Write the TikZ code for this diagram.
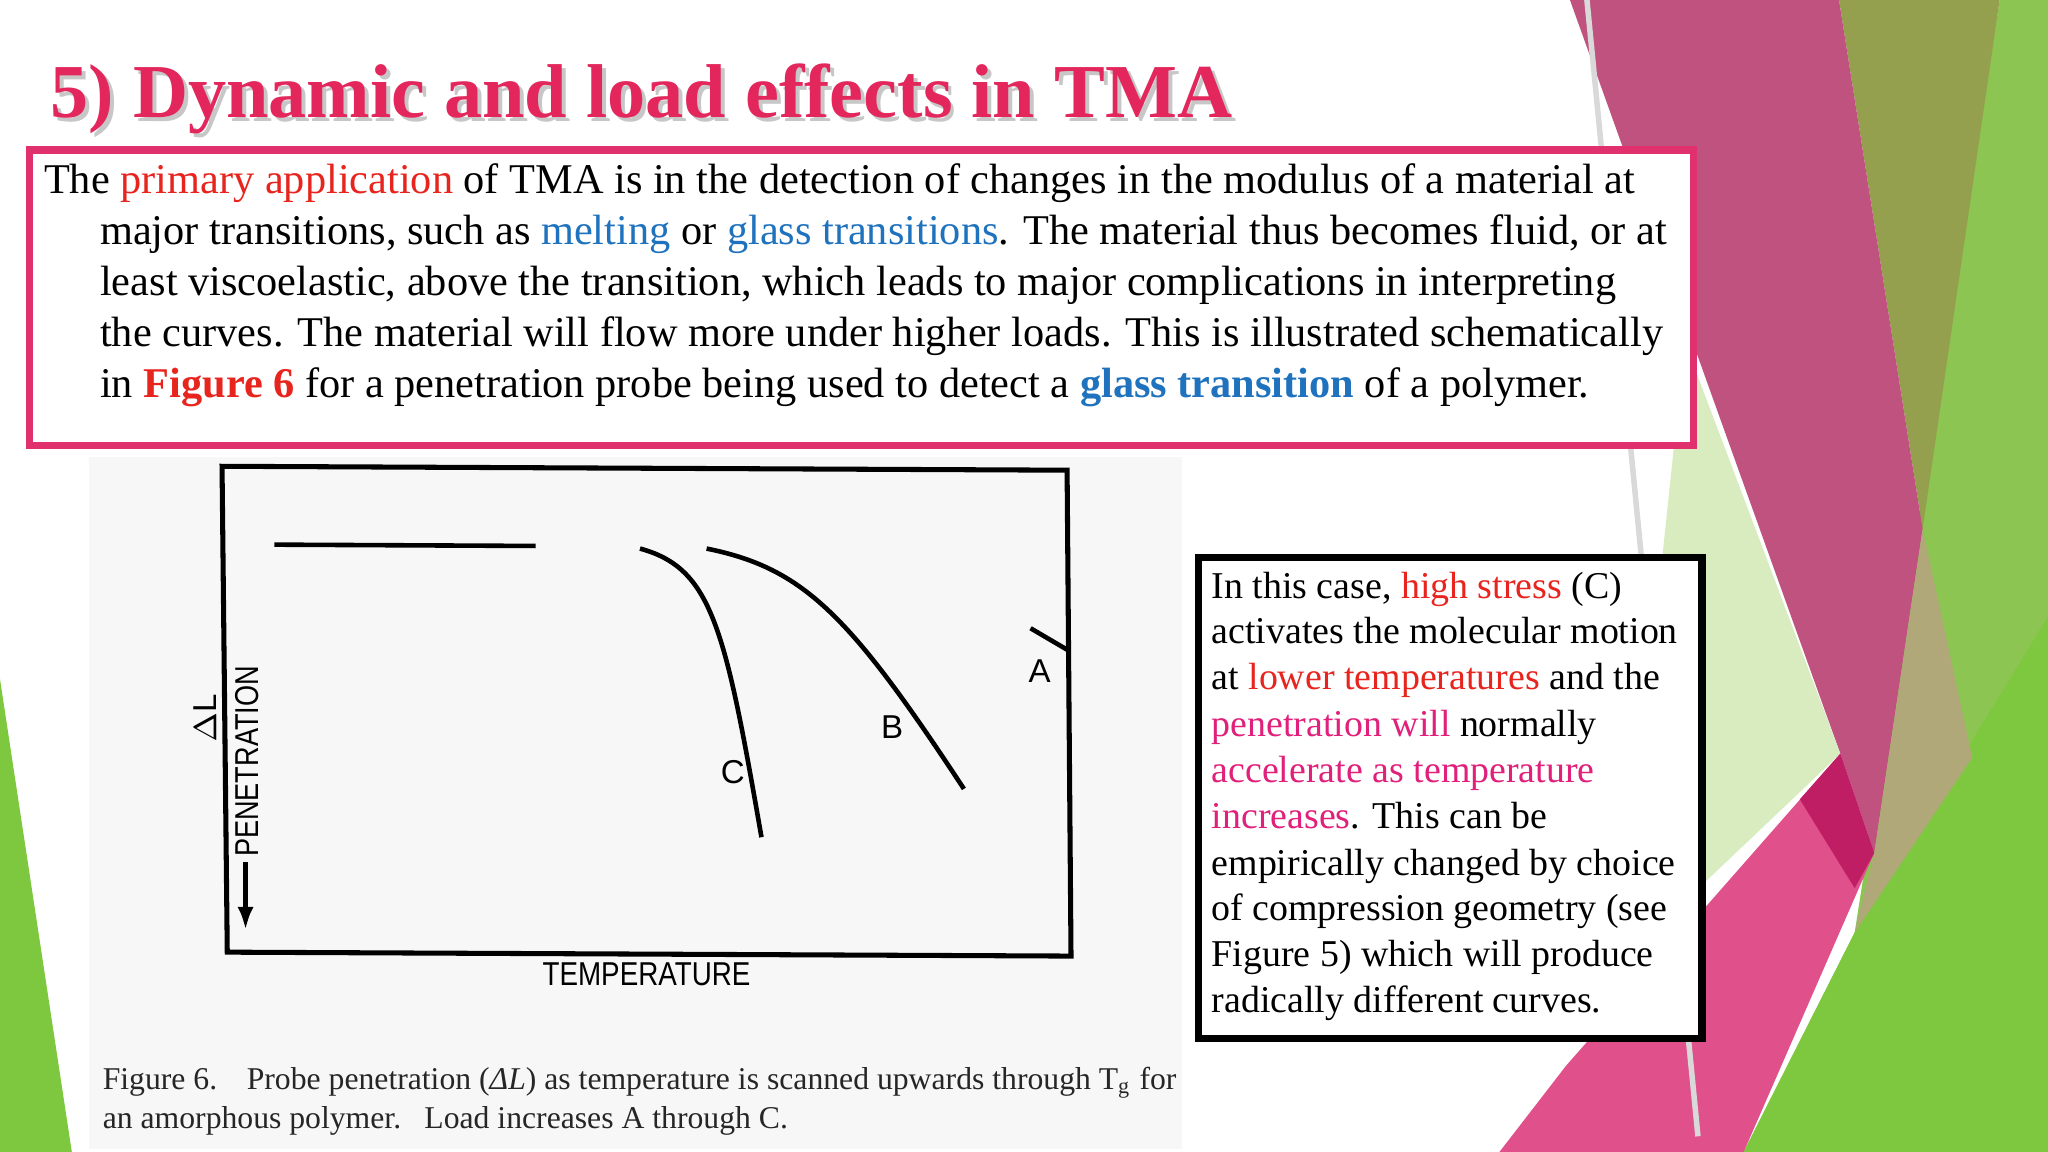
\documentclass[tikz,border=0pt]{standalone}
\usepackage{fontspec}
\setmainfont{Liberation Serif}
\setsansfont{Liberation Sans}
\usetikzlibrary{arrows.meta}
\definecolor{tred}{HTML}{E8241E}
\definecolor{tblue}{HTML}{1F72BD}
\definecolor{tpink}{HTML}{E0207A}
\definecolor{ttitle}{HTML}{E3265C}
\definecolor{tbox}{HTML}{E0306E}
\begin{document}
\begin{tikzpicture}[x=0.01cm,y=-0.01cm,
  body/.style={anchor=base west,inner sep=0,font=\fontsize{9.22}{10}\selectfont},
  side/.style={anchor=base west,inner sep=0,font=\fontsize{8.25}{10}\selectfont},
  lab/.style={inner sep=0,font=\sffamily\fontsize{7.2}{8}\selectfont},
  captext/.style={anchor=base west,inner sep=0,text=black!85,font=\fontsize{6.9}{9}\selectfont}]
\useasboundingbox (0,0) rectangle (1568,882);
\fill[white] (0,0) rectangle (1568,882);
% background decoration
\fill[color={rgb,255:red,141;green,197;blue,82}] (1531,0)--(1568,0)--(1568,882)--(1335,882)--(1420,714)--cycle;
\fill[color={rgb,255:red,126;green,200;blue,64}] (1335,882)--(1568,882)--(1568,472)--(1420,714)--cycle;
\fill[color={rgb,255:red,148;green,160;blue,78}] (1408,0)--(1531,0)--(1472,405)--cycle;
\fill[color={rgb,255:red,192;green,82;blue,128}] (1202,0)--(1408,0)--(1472,405)--(1435,653)--(1409,577)--cycle;
\fill[color={rgb,255:red,216;green,236;blue,192}] (1290,262)--(1409,577)--(1290,690)--(1265,500)--cycle;
\fill[color={rgb,255:red,224;green,80;blue,138}] (1148,882)--(1199,816)--(1409,577)--(1435,653)--(1335,882)--cycle;
\fill[color={rgb,255:red,192;green,30;blue,100}] (1378,612)--(1409,577)--(1435,653)--(1420,680)--cycle;
\fill[color={rgb,255:red,176;green,168;blue,120}] (1435,653)--(1472,405)--(1510,580)--(1420,714)--cycle;
\draw[black!15,line width=1.2] (1215,0)--(1300,870);
\fill[color={rgb,255:red,126;green,200;blue,64}] (0,520)--(55,882)--(0,882)--cycle;
% title
\node[anchor=base west,inner sep=0,text=black!22,font=\bfseries\fontsize{16.6}{18}\selectfont] at (41,93) {5) Dynamic and load effects in TMA};
\node (title) [anchor=base west,inner sep=0,text=ttitle,font=\bfseries\fontsize{16.6}{18}\selectfont] at (38,90) {5) Dynamic and load effects in TMA};
% top box
\node (topbox) [draw=tbox,line width=1.6pt,fill=white,minimum width=12.73cm,minimum height=2.26cm,anchor=north west,inner sep=0] at (20,112) {};
\node (l1) [body] at (33,148) {The \textcolor{tred}{primary application} of TMA is in the detection of changes in the modulus of a material at};
\node (l2) [body] at (76,187) {major transitions, such as \textcolor{tblue}{melting} or \textcolor{tblue}{glass transitions}. The material thus becomes fluid, or at};
\node (l3) [body] at (76,226) {least viscoelastic, above the transition, which leads to major complications in interpreting};
\node (l4) [body] at (76,265) {the curves. The material will flow more under higher loads. This is illustrated schematically};
\node (l5) [body] at (76,304) {in \textcolor{tred}{\textbf{Figure 6}} for a penetration probe being used to detect a \textcolor{tblue}{\textbf{glass transition}} of a polymer.};
% figure
\fill[black!3] (68,350) rectangle (905,880);
\draw[line width=1.1pt] (170,357)--(817,360)--(820,732)--(174,729)--cycle;
\draw[line width=1pt] (210,417)--(410,418);
\draw[line width=1pt] (490,420) .. controls (545,435) and (555,480) .. (583,641);
\draw[line width=1pt] (541,420) .. controls (615,435) and (650,470) .. (738,604);
\draw[line width=1pt] (789,481)--(818,498);
\node (A) [lab] at (796,514) {A};
\node (B) [lab] at (683,557) {B};
\node (C) [lab] at (561,591) {C};
\node (pen) [lab,rotate=90,xscale=0.82] at (189,583) {PENETRATION};
\coordinate (arrStart) at (188,660);
\coordinate (arrEnd) at (188,712);
\draw[line width=1pt,-{Latex[length=5pt,width=3.5pt]}] (arrStart) -- (arrEnd);
\node (dl) [lab,rotate=90] at (157,550) {$\Delta$L};
\node (temp) [lab,xscale=0.84] at (495,746) {TEMPERATURE};
\node (c1) [captext] at (78,834) {Figure 6.\hspace{0.6em} Probe penetration (\textit{ΔL}) as temperature is scanned upwards through T\textsubscript{g} for};
\node (c2) [captext] at (78,864) {an amorphous polymer.\hspace{0.4em} Load increases A through C.};
% side box
\node (sidebox) [draw=black,line width=1.6pt,fill=white,minimum width=3.85cm,minimum height=3.68cm,anchor=north west,inner sep=0] at (915,424) {};
\node (s1) [side] at (927,458) {In this case, \textcolor{tred}{high stress} (C)};
\node (s2) [side] at (927,493) {activates the molecular motion};
\node (s3) [side] at (927,528) {at \textcolor{tred}{lower temperatures} and the};
\node (s4) [side] at (927,564) {\textcolor{tpink}{penetration will} normally};
\node (s5) [side] at (927,599) {\textcolor{tpink}{accelerate as temperature}};
\node (s6) [side] at (927,634) {\textcolor{tpink}{increases}. This can be};
\node (s7) [side] at (927,670) {empirically changed by choice};
\node (s8) [side] at (927,705) {of compression geometry (see};
\node (s9) [side] at (927,740) {Figure 5) which will produce};
\node (s10) [side] at (927,775) {radically different curves.};
\end{tikzpicture}
\end{document}
